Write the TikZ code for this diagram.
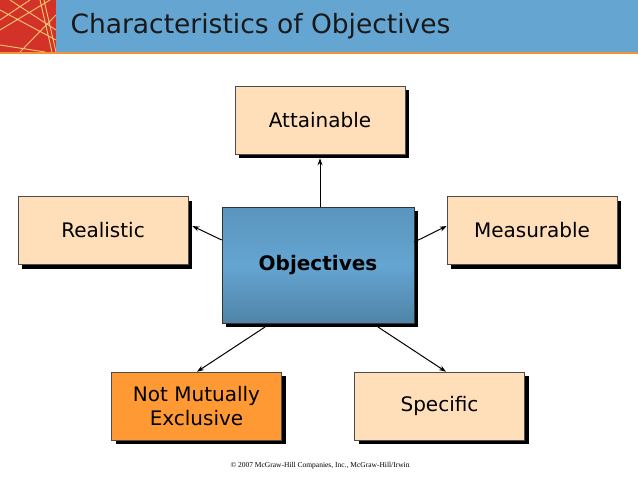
\documentclass[tikz,border=0pt]{standalone}
\usepackage{fontspec}
\setmainfont{DejaVu Sans}
\newfontfamily\serifft{Liberation Serif}
\definecolor{peach}{RGB}{255,222,186}
\definecolor{orng}{RGB}{255,153,51}
\definecolor{bar}{RGB}{100,165,210}
\definecolor{logored}{RGB}{210,50,40}
\definecolor{logoyel}{RGB}{250,200,110}
\tikzset{
  box/.style={draw=black!70, line width=0.6pt, fill=peach, minimum width=170pt, minimum height=68pt, font=\fontsize{20}{24}\selectfont, align=center, inner sep=0pt,
    preaction={fill=black, transform canvas={xshift=4pt,yshift=-4pt}}},
  conn/.style={-{Stealth[length=7pt,width=5pt]}, line width=1pt}
}
\usetikzlibrary{arrows.meta}
\begin{document}
\begin{tikzpicture}[x=1pt,y=-1pt]
\useasboundingbox (0,0) rectangle (638,479);
\fill[bar] (56,0) rectangle (638,52);
\fill[orng!80!brown] (0,52) rectangle (638,54);
\fill[logored] (0,0) rectangle (56,52);
\begin{scope}
\clip (0,0) rectangle (56,52);
\draw[logoyel, line width=0.9pt] (0,10) -- (56,40) (10,0) -- (56,30) (40,0) -- (52,52) (0,30) -- (50,0) (20,52) -- (56,15) (0,45) -- (45,52) (30,0) -- (0,20) (44,0) -- (56,52);
\end{scope}
\node[anchor=west, font=\fontsize{26.5}{30}\selectfont, text=black!90] (title) at (67,26) {Characteristics of Objectives};
\node[box] (att) at (320,120) {Attainable};
\node[box] (real) at (103,230.5) {Realistic};
\node[box] (meas) at (532,230.5) {Measurable};
\node[box, fill=orng] (nme) at (196.5,406) {Not Mutually\\Exclusive};
\node[box] (spec) at (439.5,406) {Specific};
\node[draw=black!80, line width=0.6pt, minimum width=192pt, minimum height=116pt, inner sep=0pt,
  top color=bar!90!black, bottom color=bar!80!black, middle color=bar,
  preaction={fill=black, transform canvas={xshift=4pt,yshift=-4pt}},
  font=\fontsize{20}{24}\selectfont\bfseries] (obj) at (318,265) {Objectives};
\coordinate (attS) at ([yshift=-4pt]att.south);
\coordinate (realE) at ([xshift=4pt]real.east |- 0,226);
\draw[conn] (obj.north -| att) -- (attS);
\draw[conn] (obj.west |- 0,240) -- (realE);
\draw[conn] (obj.east |- 0,242) -- (meas.west |- 0,226);
\draw[conn] (265,327) -- (nme.north -| 197,0);
\draw[conn] (378,327) -- (spec.north -| 446,0);
\node[font=\serifft\fontsize{7.5}{9}\selectfont] (copy) at (320,466) {© 2007 McGraw-Hill Companies, Inc., McGraw-Hill/Irwin};
\end{tikzpicture}
\end{document}
